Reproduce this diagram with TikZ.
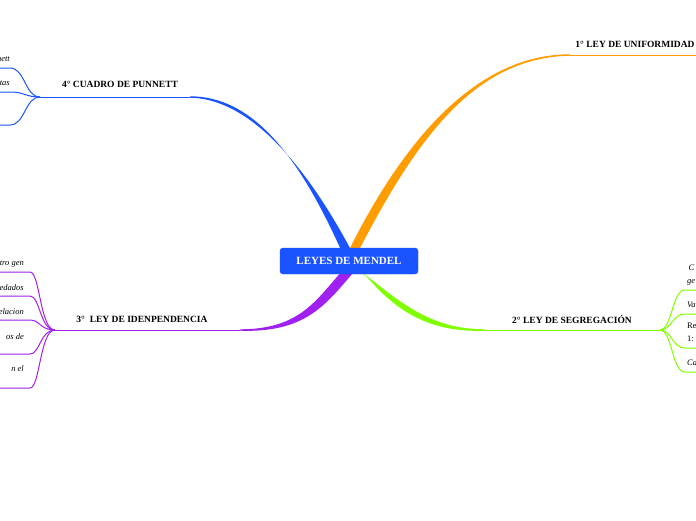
\documentclass[tikz,border=0pt]{standalone}
\usepackage{fontspec}
\setmainfont{Liberation Serif}
\begin{document}
\begin{tikzpicture}[x=1pt,y=-1pt,
  title/.style={font=\bfseries\fontsize{9.5}{11}\selectfont,inner sep=1pt},
  sub/.style={font=\itshape\fontsize{8.5}{10}\selectfont,inner sep=1pt,anchor=east},
  subr/.style={font=\fontsize{8.5}{11}\selectfont,inner sep=1pt,anchor=west,align=left},
  thin/.style={line width=1pt}]
\useasboundingbox (0,0) rectangle (696,520);
\definecolor{cb}{HTML}{1A53FF}\definecolor{co}{HTML}{FF9C00}
\definecolor{cg}{HTML}{80FF00}\definecolor{cp}{HTML}{A020F0}
% main branches (tapered)
\coordinate (hB) at (190,97); \coordinate (eB) at (40,97);
\coordinate (hO) at (570,55); \coordinate (eO) at (696,55);
\coordinate (hP) at (240,330); \coordinate (eP) at (55,330);
\coordinate (hG) at (485,330); \coordinate (eG) at (660,330);
\fill[cb] (341,250) .. controls (296,150) and (250,96.3) .. (190,96.3) -- (190,97.7) .. controls (246,98.5) and (302,158) .. (351,250) -- cycle;
\draw[cb,thin] (hB) -- (eB);
\fill[co] (349,250) .. controls (398,152) and (470,54.3) .. (570,54.3) -- (570,55.7) .. controls (476,57.5) and (418,136) .. (359,250) -- cycle;
\draw[co,thin] (hO) -- (eO);
\fill[cp] (343,270) .. controls (316,300) and (300,329.3) .. (240,329.3) -- (240,330.7) .. controls (306,333) and (326,304) .. (353,273) -- cycle;
\draw[cp,thin] (hP) -- (eP);
\fill[cg] (358,269) .. controls (400,302) and (430,329.3) .. (485,329.3) -- (485,330.7) .. controls (426,333) and (394,308) .. (367,277) -- cycle;
\draw[cg,thin] (hG) -- (eG);
\node[draw=cb,fill=cb,rounded corners=3pt,text=white,font=\bfseries\fontsize{11}{13}\selectfont,minimum width=138pt,minimum height=26pt] (root) at (349,261) {LEYES DE MENDEL};
% titles
\node[title] (t1) at (635,44) {1° LEY DE UNIFORMIDAD};
\node[title] (t4) at (120,84) {4° CUADRO DE PUNNETT};
\node[title] (t3) at (142,319) {3°\ \ LEY DE IDENPENDENCIA};
\node[title] (t2) at (572,319) {2° LEY DE SEGREGACIÓN};
% blue subbranches
\foreach \y/\t [count=\i] in {68/nett,92/tas,125/{}}{
  \node[sub] (b\i) at (11,\y-9) {\t};
  \draw[cb,thin] (eB) .. controls (25,97) and (25,\y) .. (10,\y) -- (0,\y);}
% purple subbranches
\foreach \y/\l/\t [count=\i] in {272/264/tro gen,296/288/edados,320/312/elacion,354/337/os de,388/369/n el}{
  \node[sub] (p\i) at (25,\l) {\t};
  \draw[cp,thin] (eP) .. controls (40,330) and (40,\y) .. (30,\y) -- (0,\y);}
% green subbranches
\foreach \y [count=\i] in {290,314,348,372}{
  \draw[cg,thin] (eG) .. controls (672,330) and (672,\y) .. (685,\y) -- (696,\y);}
\node[subr,font=\itshape\fontsize{8.5}{13}\selectfont,anchor=north west] (g1) at (686,264) {\,C\\ge};
\node[subr,font=\itshape\fontsize{8.5}{10}\selectfont] (g2) at (686,305) {Va};
\node[subr,font=\fontsize{8.5}{13}\selectfont,anchor=north west] (g3) at (686,322) {Re\\1:};
\node[subr,font=\itshape\fontsize{8.5}{10}\selectfont] (g4) at (686,363) {Ca};
\end{tikzpicture}
\end{document}
